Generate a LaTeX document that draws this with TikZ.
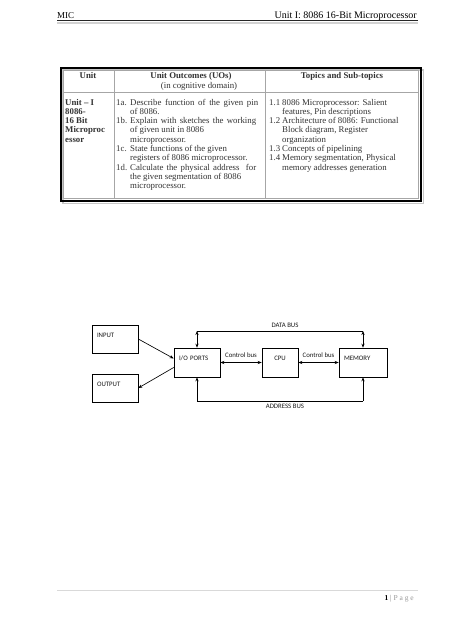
\documentclass[tikz,border=0pt]{standalone}
\usepackage{fontspec}
\setmainfont{Liberation Serif}
\setsansfont{Carlito}
\usepackage{xcolor}
\usetikzlibrary{positioning, arrows.meta}

\begin{document}
\begin{tikzpicture}[x=1pt, y=-1pt,
    blk/.style={rectangle, draw, line width=0.65pt, align=left, inner xsep=5pt, text height=3pt, text depth=7pt, font=\sffamily\fontsize{6.8}{7.5}\selectfont, text=black!90},
    lbl/.style={font=\sffamily\fontsize{6.8}{7.5}\selectfont, inner sep=0pt, text=black!90},
    cell/.style={anchor=base west, inner sep=0pt, font=\fontsize{8.8}{9.3}\selectfont, text=black!80},
    hdr/.style={anchor=base, inner sep=0pt, font=\fontsize{8.8}{9.3}\selectfont, text=black!80},
    grid/.style={draw=gray!70, line width=0.5pt},
    arrow/.style={line width=0.65pt, ->, >={Stealth[length=4pt, width=3.2pt]}},
    dblarrow/.style={line width=0.65pt, <->, >={Stealth[length=4pt, width=3.2pt]}},
    bus/.style={line width=0.65pt}
]
\fill[white] (0,0) rectangle (474,632);
\useasboundingbox (0,0) rectangle (474,632);

% page header
\draw[gray!35, line width=2.5pt] (57,23) -- (418,23);
\draw[black!85, line width=1.3pt] (57,20.8) -- (418,20.8);
\node[anchor=base west, inner sep=0pt, font=\fontsize{9}{11}\selectfont] (mic) at (57,18.5) {MIC};
\node[anchor=base east, inner sep=0pt, font=\fontsize{10}{12}\selectfont] (unit) at (417,18.5) {Unit I: 8086 16-Bit Microprocessor};

% table
\draw[gray!45, line width=1.4pt] (63,70) rectangle (423.5,203.5);
\draw[line width=1.8pt] (61,68) rectangle (421,201);
\draw[grid] (63.5,70.5) rectangle (418.5,198.5);
\draw[grid] (63.5,92.5) -- (418.5,92.5);
\draw[grid] (114,70.5) -- (114,198.5);
\draw[grid] (265,70.5) -- (265,198.5);

\node[hdr] (hunit) at (88,78) {\textbf{Unit}};
\node[hdr] (huo) at (191,78) {\textbf{Unit Outcomes (UOs)}};
\node[hdr] (huo2) at (199,88) {(in cognitive domain)};
\node[hdr] (htop) at (342,78) {\textbf{Topics and Sub-topics}};

\node[cell] (cunit) at (65,105) {\bfseries\begin{tabular}[t]{@{}l@{}}
Unit -- I\\ 8086-\\ 16 Bit\\ Microproc\\ essor
\end{tabular}};

\node[cell] (cuo) at (116,105) {\begin{tabular}[t]{@{}p{14pt}@{}l@{}}
1a. & \makebox[128pt][s]{Describe function of the given pin}\\
    & of 8086.\\
1b. & \makebox[126pt][s]{Explain with sketches the working}\\
    & of given unit in 8086\\
    & microprocessor.\\
1c. & State functions of the given\\
    & registers of 8086 microprocessor.\\
1d. & \makebox[126pt][s]{Calculate the physical address \ for}\\
    & the given segmentation of 8086\\
    & microprocessor.
\end{tabular}};

\node[cell] (ctop) at (269,105) {\begin{tabular}[t]{@{}p{13pt}@{}l@{}}
1.1 & 8086 Microprocessor: Salient\\
    & features, Pin descriptions\\
1.2 & Architecture of 8086: Functional\\
    & Block diagram, Register\\
    & organization\\
1.3 & Concepts of pipelining\\
1.4 & Memory segmentation, Physical\\
    & memory addresses generation
\end{tabular}};

% block diagram
\node[blk, text width=36pt, minimum height=28pt] (input) at (115,339) {INPUT};
\node[blk, text width=36pt, minimum height=28pt] (output) at (115,388) {OUTPUT};
\node[blk, text width=36pt, minimum height=29pt] (io) at (197,362.5) {I/O PORTS};
\node[blk, text width=26pt, align=center, minimum height=29pt] (cpu) at (280,362.5) {CPU};
\node[blk, text width=38pt, minimum height=29pt] (mem) at (363,362.5) {MEMORY};

\coordinate (dbl) at (197,331);
\coordinate (dbr) at (363,331);
\coordinate (abl) at (197,401);
\coordinate (abr) at (363,401);

\draw[bus] (dbl) -- node[lbl, above=3pt, pos=0.53] (dblbl) {DATA BUS} (dbr);
\draw[dblarrow] (dbl) -- (io.north);
\draw[dblarrow] (dbr) -- (mem.north);

\draw[bus] (abl) -- node[lbl, below=3pt, pos=0.53] (ablbl) {ADDRESS BUS} (abr);
\draw[arrow] (abl) -- (io.south);
\draw[arrow] (abr) -- (mem.south);

\draw[dblarrow] (io.east) -- node[lbl, above=4.5pt] (cb1) {Control bus} (cpu.west);
\draw[dblarrow] (cpu.east) -- node[lbl, above=4.5pt] (cb2) {Control bus} (mem.west);

\draw[arrow] (input.east) -- ([yshift=4pt]io.west);
\draw[arrow] ([yshift=-5pt]io.west) -- (output.east);

% footer
\draw[gray!30, line width=0.5pt] (57,590) -- (418,590);
\node[anchor=base east, inner sep=0pt, font=\fontsize{7.5}{9}\selectfont] (pg) at (414,600) {\textbf{1} {\color{gray}|} {\color{gray!80}P a g e}};

\end{tikzpicture}
\end{document}
